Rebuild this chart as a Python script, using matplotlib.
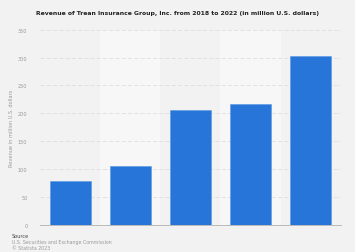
import numpy as np
import matplotlib.pyplot as plt

years = ['2018', '2019', '2020', '2021', '2022']
revenue = [78, 105, 205, 217, 303]
yticks = [0, 50, 100, 150, 200, 250, 300, 350]

fig = plt.figure(figsize=(3.55, 2.53), dpi=100)
fig.patch.set_facecolor('#f2f2f2')
ax = fig.add_axes([40/355, 27.3/253, 300.7/355, 195/253])
ax.set_facecolor('#f2f2f2')

x = np.arange(len(years))
# lighter bands behind every other category
for i in x:
    if i % 2 == 1:
        ax.axvspan(i - 0.5, i + 0.5, color='#f7f7f7', zorder=0, lw=0)

ax.bar(x, revenue, width=0.68, color='#2775d9', edgecolor='#5b97e3', linewidth=0.4, zorder=3)

ax.set_xlim(-0.5, len(years) - 0.5)
ax.set_ylim(0, 350)
ax.set_yticks(yticks)
ax.set_yticklabels([str(t) for t in yticks], fontsize=3.6, color='#999999')
ax.set_xticks([])
ax.tick_params(axis='y', length=0, pad=9)
ax.grid(axis='y', color='#dadada', linestyle=(0, (6, 3)), linewidth=0.5, zorder=1)
for s in ['top', 'right', 'left']:
    ax.spines[s].set_visible(False)
ax.spines['bottom'].set_color('#b0b0b0')
ax.spines['bottom'].set_linewidth(0.6)
ax.set_ylabel('Revenue in million U.S. dollars', fontsize=3.6, color='#999999', labelpad=3)

fig.text(178/355, 1 - 13/253, 'Revenue of Trean Insurance Group, Inc. from 2018 to 2022 (in million U.S. dollars)',
         ha='center', va='center', fontsize=4.45, fontweight='bold', color='#222222')
fig.text(12/355, 1 - 236/253, 'Source', fontsize=3.6, color='#444444', va='center')
fig.text(12/355, 1 - 243/253, 'U.S. Securities and Exchange Commission', fontsize=3.4, color='#999999', va='center')
fig.text(12/355, 1 - 249/253, '© Statista 2023', fontsize=3.4, color='#999999', va='center')

fig.savefig('out.png', dpi=100, facecolor=fig.get_facecolor())
